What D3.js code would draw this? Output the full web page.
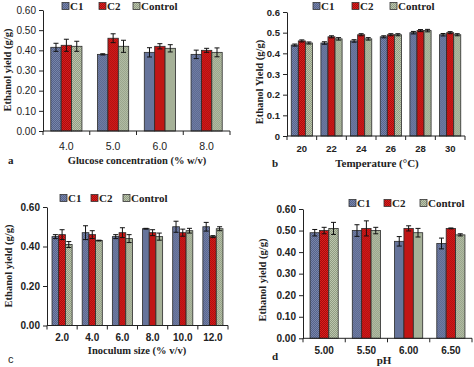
<!DOCTYPE html>
<html>
<head>
<meta charset="utf-8">
<script src="https://cdn.jsdelivr.net/npm/d3@7"></script>
<style>
  body { margin: 0; background: #fff; }
  svg { display: block; }
  .serif { font-family: "Liberation Serif", "Times New Roman", serif; font-weight: bold; }
  .sans { font-family: "Liberation Sans", Arial, sans-serif; }
</style>
</head>
<body>
<svg id="chart" width="474" height="367"></svg>
<script>
const series = ["C1", "C2", "Control"]

// panel a - glucose concentration
const catsA = ["4.0", "5.0", "6.0", "8.0"]
const c1A = [0.415, 0.38, 0.39, 0.38]
const c2A = [0.425, 0.46, 0.42, 0.40]
const ctrlA = [0.42, 0.42, 0.41, 0.39]
const c1ErrA = [0.02, 0.003, 0.023, 0.021]
const c2ErrA = [0.03, 0.022, 0.013, 0.01]
const ctrlErrA = [0.025, 0.03, 0.018, 0.022]

// panel b - temperature
const catsB = ["20", "22", "24", "26", "28", "30"]
const c1B = [0.44, 0.45, 0.46, 0.48, 0.50, 0.49]
const c2B = [0.46, 0.48, 0.49, 0.49, 0.51, 0.50]
const ctrlB = [0.45, 0.47, 0.47, 0.49, 0.51, 0.49]
const c1ErrB = [0.005, 0.006, 0.006, 0.005, 0.006, 0.006]
const c2ErrB = [0.005, 0.005, 0.005, 0.005, 0.005, 0.005]
const ctrlErrB = [0.005, 0.006, 0.006, 0.005, 0.006, 0.005]

// panel c - inoculum size
const catsC = ["2.0", "4.0", "6.0", "8.0", "10.0", "12.0"]
const c1C = [0.45, 0.47, 0.45, 0.49, 0.50, 0.50]
const c2C = [0.46, 0.46, 0.47, 0.47, 0.47, 0.45]
const ctrlC = [0.41, 0.43, 0.44, 0.45, 0.48, 0.49]
const c1ErrC = [0.01, 0.035, 0.01, 0.002, 0.028, 0.022]
const c2ErrC = [0.025, 0.02, 0.025, 0.015, 0.018, 0.005]
const ctrlErrC = [0.015, 0.002, 0.02, 0.018, 0.012, 0.01]

// panel d - pH
const catsD = ["5.00", "5.50", "6.00", "6.50"]
const c1D = [0.49, 0.50, 0.45, 0.44]
const c2D = [0.50, 0.51, 0.51, 0.51]
const ctrlD = [0.51, 0.50, 0.49, 0.48]
const c1ErrD = [0.015, 0.027, 0.022, 0.025]
const c2ErrD = [0.015, 0.035, 0.012, 0.002]
const ctrlErrD = [0.028, 0.015, 0.02, 0.005]

const svg = d3.select("#chart")

// bar textures
const defs = svg.append("defs")
const textures = [
  { id: "texC1", base: "#7785ab", dot: "#56628a" },
  { id: "texC2", base: "#da1e1e", dot: "#a80c0c" },
  { id: "texCtrl", base: "#bcc5ae", dot: "#909c82" }
]
textures.forEach(t => {
  const p = defs.append("pattern")
    .attr("id", t.id)
    .attr("width", 2).attr("height", 2)
    .attr("patternUnits", "userSpaceOnUse")
  p.append("rect").attr("width", 2).attr("height", 2).attr("fill", t.base)
  p.append("rect").attr("width", 1).attr("height", 1).attr("fill", t.dot)
  p.append("rect").attr("x", 1).attr("y", 1).attr("width", 1).attr("height", 1).attr("fill", t.dot)
})
const fills = ["url(#texC1)", "url(#texC2)", "url(#texCtrl)"]

const drawPanel = (cfg) => {
  const g = svg.append("g")
  const rows = cfg.cats.map((c, i) => ({
    cat: c,
    bars: series.map((s, j) => ({ s: s, j: j, v: cfg.vals[j][i], e: cfg.errs[j][i] }))
  }))

  const x = d3.scaleBand().domain(cfg.cats).range([cfg.x0, cfg.x1])
  const xs = d3.scaleBand().domain(series).range([0, x.bandwidth()]).paddingOuter(cfg.outer)
  const y = d3.scaleLinear().domain([0, 0.6]).range([cfg.y0, cfg.y1])

  // axes
  const yAxis = d3.axisLeft(y).tickValues(cfg.yTicks).tickFormat(cfg.yFmt).tickSize(4).tickSizeOuter(0)
  const ya = g.append("g").attr("transform", `translate(${cfg.x0},0)`).call(yAxis)
  ya.select(".domain").attr("stroke", "#222")
  ya.selectAll(".tick line").attr("stroke", "#222")
  ya.selectAll(".tick text")
    .attr("class", "sans")
    .attr("font-size", cfg.yFont)
    .attr("font-weight", cfg.yBold ? "bold" : "normal")
    .attr("fill", "#222")
    .attr("x", -7)

  // bars
  const grp = g.selectAll(".grp").data(rows).enter().append("g")
    .attr("transform", d => `translate(${x(d.cat)},0)`)
  grp.selectAll("rect").data(d => d.bars).enter().append("rect")
    .attr("x", d => xs(d.s))
    .attr("width", xs.bandwidth())
    .attr("y", d => y(d.v))
    .attr("height", d => y(0) - y(d.v))
    .attr("fill", d => fills[d.j])
    .attr("stroke", "#2a2a2a")
    .attr("stroke-width", 0.8)

  // error bars
  const eb = grp.selectAll(".err").data(d => d.bars).enter().append("g")
    .attr("stroke", "#111").attr("stroke-width", 1)
  const cx = d => xs(d.s) + xs.bandwidth() / 2
  eb.append("line")
    .attr("x1", cx).attr("x2", cx)
    .attr("y1", d => y(d.v + d.e)).attr("y2", d => y(d.v - d.e))
  eb.append("line")
    .attr("x1", d => cx(d) - 2.5).attr("x2", d => cx(d) + 2.5)
    .attr("y1", d => y(d.v + d.e)).attr("y2", d => y(d.v + d.e))
  eb.append("line")
    .attr("x1", d => cx(d) - 2.5).attr("x2", d => cx(d) + 2.5)
    .attr("y1", d => y(d.v - d.e)).attr("y2", d => y(d.v - d.e))

  // x axis: ticks between categories
  const bounds = cfg.cats.map(c => x(c)).concat([cfg.x1])
  g.append("line")
    .attr("x1", cfg.x0).attr("x2", cfg.x1)
    .attr("y1", cfg.y0).attr("y2", cfg.y0)
    .attr("stroke", "#222")
  g.selectAll(".xt").data(bounds).enter().append("line")
    .attr("x1", d => d).attr("x2", d => d)
    .attr("y1", cfg.y0).attr("y2", cfg.y0 + 4)
    .attr("stroke", "#222")
  g.selectAll(".xl").data(cfg.cats).enter().append("text")
    .attr("class", "sans")
    .attr("x", d => x(d) + x.bandwidth() / 2)
    .attr("y", cfg.xLabelY)
    .attr("text-anchor", "middle")
    .attr("font-size", cfg.xFont)
    .attr("font-weight", cfg.xBold ? "bold" : "normal")
    .attr("fill", "#222")
    .text(d => d)

  // titles
  g.append("text").attr("class", "serif")
    .attr("x", cfg.titleX).attr("y", cfg.titleY)
    .attr("text-anchor", "middle").attr("font-size", cfg.titleFont)
    .attr("fill", "#222")
    .text(cfg.xTitle)
  g.append("text").attr("class", "serif")
    .attr("transform", `translate(${cfg.yTitleX},${cfg.yTitleY}) rotate(-90)`)
    .attr("text-anchor", "middle").attr("font-size", 10.5)
    .attr("fill", "#222")
    .text(cfg.yTitle)
  g.append("text").attr("class", cfg.letterSans ? "sans" : "serif")
    .attr("x", cfg.letterX).attr("y", cfg.letterY)
    .attr("font-size", 11).attr("font-weight", cfg.letterSans ? "normal" : "bold")
    .attr("fill", "#222")
    .text(cfg.letter)

  // legend
  const lg = g.selectAll(".lg").data(series).enter().append("g")
    .attr("transform", (d, i) => `translate(${cfg.legX[i]},${cfg.legY})`)
  lg.append("rect")
    .attr("x", 0).attr("y", -3.5).attr("width", 7).attr("height", 7)
    .attr("fill", (d, i) => fills[i])
    .attr("stroke", "#333").attr("stroke-width", 0.8)
  lg.append("text").attr("class", "serif")
    .attr("x", 8).attr("y", 4)
    .attr("font-size", 11).attr("fill", "#222")
    .text(d => d)
}

drawPanel({
  cats: catsA, vals: [c1A, c2A, ctrlA], errs: [c1ErrA, c2ErrA, ctrlErrA],
  x0: 43, x1: 230, y0: 131, y1: 10, outer: 0.75,
  yTicks: [0, 0.1, 0.2, 0.3, 0.4, 0.5, 0.6], yFmt: d3.format(".2f"), yFont: 10, yBold: false,
  xLabelY: 150, xFont: 10.5, xBold: false,
  xTitle: "Glucose concentration (% w/v)", titleX: 137, titleY: 164, titleFont: 10.5,
  yTitle: "Ethanol yield (g/g)", yTitleX: 11, yTitleY: 70,
  letter: "a", letterX: 8, letterY: 164,
  legX: [62, 99, 133], legY: 6
})

drawPanel({
  cats: catsB, vals: [c1B, c2B, ctrlB], errs: [c1ErrB, c2ErrB, ctrlErrB],
  x0: 287, x1: 465, y0: 136, y1: 12, outer: 0.6,
  yTicks: [0, 0.1, 0.2, 0.3, 0.4, 0.5, 0.6], yFmt: d => d3.format("~g")(d), yFont: 9.5, yBold: true,
  xLabelY: 152, xFont: 9.5, xBold: true,
  xTitle: "Temperature (\u00B0C)", titleX: 377, titleY: 167, titleFont: 11,
  yTitle: "Ethanol Yield (g/g)", yTitleX: 263, yTitleY: 82,
  letter: "b", letterX: 272, letterY: 167,
  legX: [313, 352, 390], legY: 6
})

drawPanel({
  cats: catsC, vals: [c1C, c2C, ctrlC], errs: [c1ErrC, c2ErrC, ctrlErrC],
  x0: 47, x1: 228, y0: 325.5, y1: 207, outer: 0.75,
  yTicks: [0, 0.2, 0.4, 0.6], yFmt: d3.format(".2f"), yFont: 10, yBold: true,
  xLabelY: 341, xFont: 10, xBold: true,
  xTitle: "Inoculum size (% v/v)", titleX: 137, titleY: 354, titleFont: 10.5,
  yTitle: "Ethanol yield (g/g)", yTitleX: 12, yTitleY: 266,
  letter: "c", letterX: 8, letterY: 363, letterSans: true,
  legX: [60, 91, 123], legY: 198
})

drawPanel({
  cats: catsD, vals: [c1D, c2D, ctrlD], errs: [c1ErrD, c2ErrD, ctrlErrD],
  x0: 303, x1: 472, y0: 338.3, y1: 209, outer: 0.75,
  yTicks: [0, 0.1, 0.2, 0.3, 0.4, 0.5, 0.6], yFmt: d3.format(".2f"), yFont: 10, yBold: true,
  xLabelY: 354, xFont: 10, xBold: true,
  xTitle: "pH", titleX: 384, titleY: 364, titleFont: 11,
  yTitle: "Ethanol yield (g/g)", yTitleX: 266, yTitleY: 280,
  letter: "d", letterX: 272, letterY: 360,
  legX: [349, 384, 420], legY: 203
})
</script>
</body>
</html>
